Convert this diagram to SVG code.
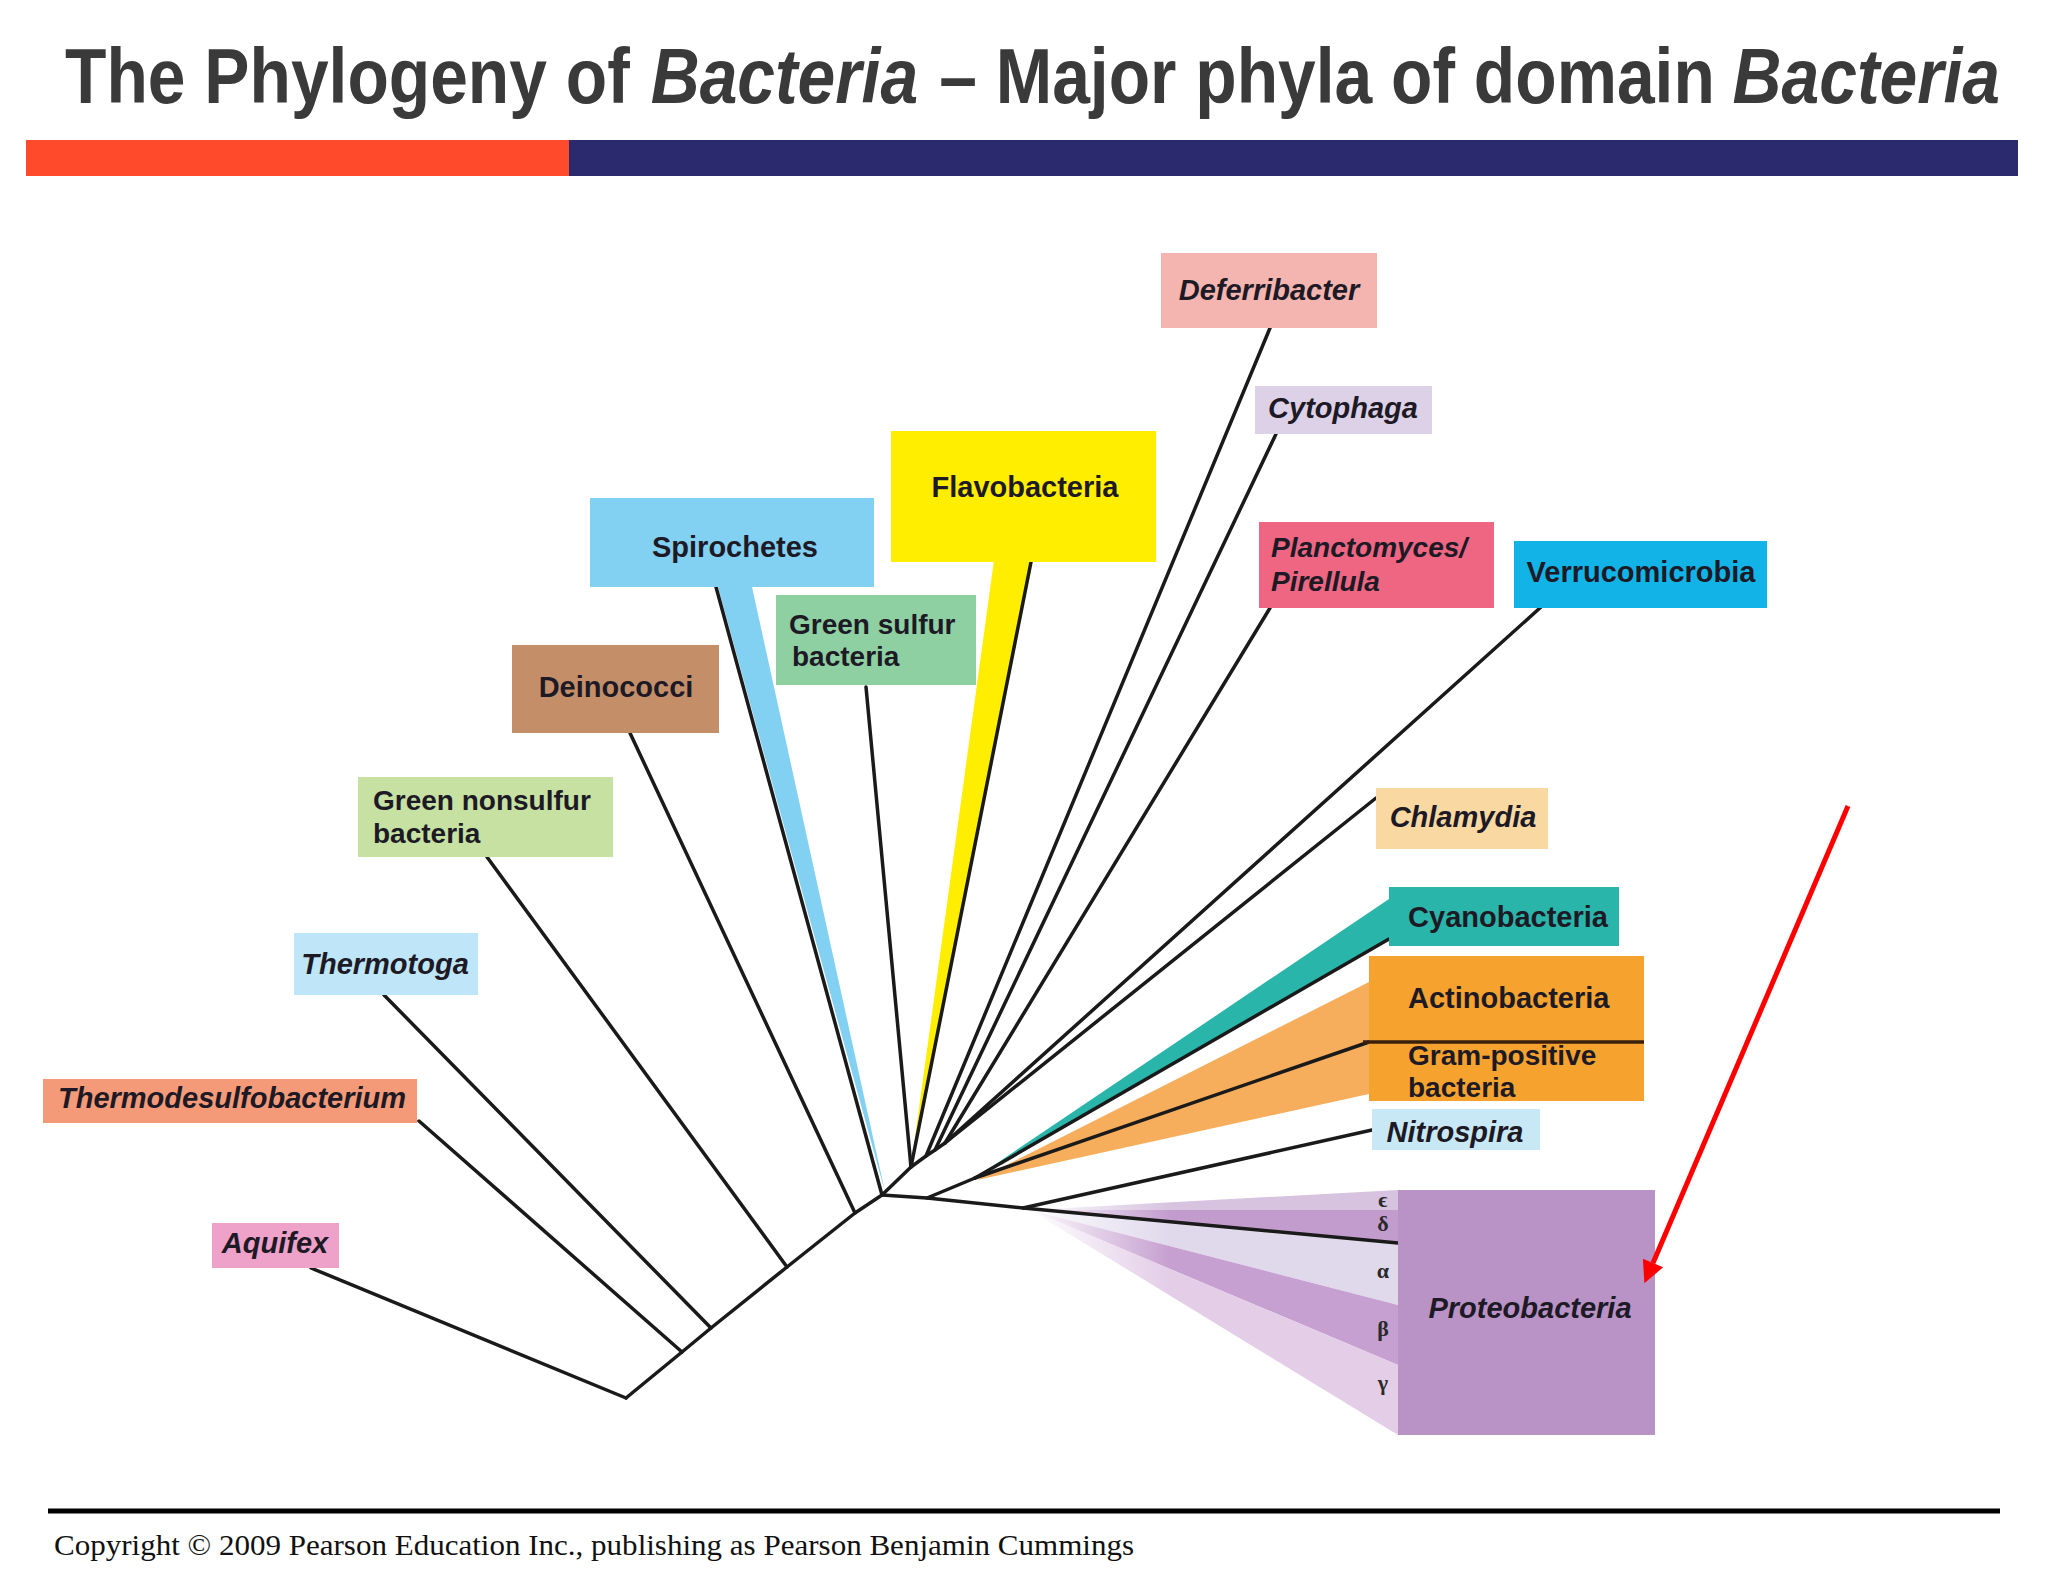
<svg xmlns="http://www.w3.org/2000/svg" width="2048" height="1582" viewBox="0 0 2048 1582">
<defs>
<style>
.lbl{font-family:"Liberation Sans",Arial,sans-serif;font-weight:bold;font-size:29px;fill:#1d1a26}
.two{font-size:28px}
.it{font-style:italic}
.mid{text-anchor:middle}
.edge{stroke:#1a1a1a;stroke-width:3.5;fill:none;stroke-linecap:round;stroke-linejoin:round}
.greek{font-family:"Liberation Serif","Times New Roman",serif;font-size:22px;font-weight:bold;fill:#2a2a2a;text-anchor:middle}
.title{font-family:"Liberation Sans",Arial,sans-serif;font-weight:bold;font-size:78px;fill:#3a3a3a}
</style>
<marker id="redhead" viewBox="0 0 10 10" refX="0" refY="5" markerWidth="5.2" markerHeight="4.4" orient="auto" markerUnits="strokeWidth">
<path d="M0,0 L10,5 L0,10 z" fill="#ff0000"/>
</marker>
<linearGradient id="fanfade" x1="1025" y1="0" x2="1170" y2="0" gradientUnits="userSpaceOnUse">
<stop offset="0" stop-color="#ffffff" stop-opacity="1"/>
<stop offset="1" stop-color="#ffffff" stop-opacity="0"/>
</linearGradient>
</defs>
<rect width="2048" height="1582" fill="#ffffff"/>

<g id="header">
<g transform="translate(65,103) scale(0.869,1)">
<text class="title" x="0" y="0">The Phylogeny of</text>
<text class="title" x="674" y="0" font-style="italic">Bacteria</text>
<text class="title" x="1006" y="0">– Major phyla of domain</text>
<text class="title" x="1919" y="0" font-style="italic">Bacteria</text>
</g>
<rect x="26" y="140" width="543" height="36" fill="#ff4b2b"/>
<rect x="569" y="140" width="1449" height="36" fill="#2b2a6e"/>
</g>

<g id="wedges">
<polygon points="718,587 752,587 885,1192" fill="#82d0f2"/>
<polygon points="994,560 1033,560 911,1167" fill="#ffee00"/>
<polygon points="1389,899 1389,940 975,1178" fill="#2ab5aa"/>
<polygon points="1369,982 1369,1094 977,1180" fill="#f7ae5c"/>
<polygon points="1398,1190 1398,1210 1030,1210" fill="#d7c3df"/>
<polygon points="1398,1210 1398,1243 1030,1210" fill="#c39cce"/>
<polygon points="1398,1243 1398,1305 1030,1210" fill="#e0d9ec"/>
<polygon points="1398,1305 1398,1365 1030,1210" fill="#c6a0d0"/>
<polygon points="1398,1365 1398,1435 1030,1210" fill="#e3cde7"/>
<polygon points="1025,1185 1170,1185 1170,1440 1025,1440" fill="url(#fanfade)"/>
</g>

<g id="connectors">
<polyline class="edge" points="626,1398 682,1352 711,1328 787,1267 855,1213 882,1195"/>
<line class="edge" x1="311" y1="1268" x2="626" y2="1398"/>
<line class="edge" x1="419" y1="1121" x2="682" y2="1352"/>
<line class="edge" x1="384" y1="995" x2="711" y2="1328"/>
<line class="edge" x1="487" y1="857" x2="787" y2="1267"/>
<line class="edge" x1="630" y1="733" x2="855" y2="1213"/>
<line class="edge" x1="716" y1="587" x2="882" y2="1195"/>
<polyline class="edge" points="882,1195 911,1167 926,1156 935,1150 945,1143"/>
<line class="edge" x1="866" y1="687" x2="911" y2="1167"/>
<line class="edge" x1="1031" y1="562" x2="911" y2="1167"/>
<line class="edge" x1="1270" y1="328" x2="926" y2="1156"/>
<line class="edge" x1="1276" y1="434" x2="935" y2="1150"/>
<line class="edge" x1="1270" y1="608" x2="945" y2="1143"/>
<line class="edge" x1="1541" y1="607" x2="945" y2="1143"/>
<line class="edge" x1="1376" y1="798" x2="945" y2="1143"/>
<polyline class="edge" points="882,1195 927,1198 1023,1208 1398,1243"/>
<line class="edge" x1="927" y1="1198" x2="975" y2="1178"/>
<line class="edge" x1="975" y1="1178" x2="1389" y2="939"/>
<line class="edge" x1="975" y1="1178" x2="1369" y2="1042"/>
<line class="edge" x1="1023" y1="1208" x2="1372" y2="1130"/>
</g>

<g id="node-deferribacter">
<rect x="1161" y="253" width="216" height="75" fill="#f4b4b0"/>
<text class="lbl it mid" x="1269" y="300">Deferribacter</text>
</g>
<g id="node-cytophaga">
<rect x="1255" y="386" width="177" height="48" fill="#ddd1e7"/>
<text class="lbl it mid" x="1343" y="418">Cytophaga</text>
</g>
<g id="node-planctomyces">
<rect x="1259" y="522" width="235" height="86" fill="#ee6682"/>
<text class="lbl two it" x="1271" y="557">Planctomyces/</text>
<text class="lbl two it" x="1271" y="591">Pirellula</text>
</g>
<g id="node-verrucomicrobia">
<rect x="1514" y="541" width="253" height="67" fill="#12b4e8"/>
<text class="lbl mid" x="1641" y="582">Verrucomicrobia</text>
</g>
<g id="node-flavobacteria">
<rect x="891" y="431" width="265" height="131" fill="#ffee00"/>
<text class="lbl mid" x="1025" y="497">Flavobacteria</text>
</g>
<g id="node-spirochetes">
<rect x="590" y="498" width="284" height="89" fill="#82d0f2"/>
<text class="lbl mid" x="735" y="557">Spirochetes</text>
</g>
<g id="node-green-sulfur">
<rect x="776" y="595" width="200" height="90" fill="#8fd0a2"/>
<text class="lbl two" x="789" y="634">Green sulfur</text>
<text class="lbl two" x="792" y="666">bacteria</text>
</g>
<g id="node-deinococci">
<rect x="512" y="645" width="207" height="88" fill="#c48f68"/>
<text class="lbl mid" x="616" y="697">Deinococci</text>
</g>
<g id="node-green-nonsulfur">
<rect x="358" y="777" width="255" height="80" fill="#c6e1a2"/>
<text class="lbl two" x="373" y="810">Green nonsulfur</text>
<text class="lbl two" x="373" y="843">bacteria</text>
</g>
<g id="node-thermotoga">
<rect x="294" y="933" width="184" height="62" fill="#bee6f8"/>
<text class="lbl it mid" x="385" y="974">Thermotoga</text>
</g>
<g id="node-thermodesulfobacterium">
<rect x="43" y="1079" width="374" height="44" fill="#f59a78"/>
<text class="lbl it mid" x="232" y="1108">Thermodesulfobacterium</text>
</g>
<g id="node-aquifex">
<rect x="212" y="1223" width="127" height="45" fill="#eea2c9"/>
<text class="lbl it mid" x="275" y="1253">Aquifex</text>
</g>
<g id="node-chlamydia">
<rect x="1376" y="788" width="172" height="61" fill="#f9d9a1"/>
<text class="lbl it mid" x="1463" y="827">Chlamydia</text>
</g>
<g id="node-cyanobacteria">
<rect x="1389" y="887" width="230" height="59" fill="#2ab5aa"/>
<text class="lbl mid" x="1508" y="927">Cyanobacteria</text>
</g>
<g id="node-actinobacteria">
<rect x="1369" y="956" width="275" height="145" fill="#f6a22e"/>
<line x1="1363" y1="1042" x2="1644" y2="1042" stroke="#3a200c" stroke-width="3.5"/>
<text class="lbl" x="1408" y="1008">Actinobacteria</text>
<text class="lbl two" x="1408" y="1065">Gram-positive</text>
<text class="lbl two" x="1408" y="1097">bacteria</text>
</g>
<g id="node-nitrospira">
<rect x="1372" y="1109" width="168" height="41" fill="#c9e8f5"/>
<text class="lbl it mid" x="1455" y="1142">Nitrospira</text>
</g>
<g id="node-proteobacteria">
<rect x="1398" y="1190" width="257" height="245" fill="#b992c6"/>
<text class="lbl it mid" x="1530" y="1318">Proteobacteria</text>
<text class="greek" x="1383" y="1207">ϵ</text>
<text class="greek" x="1383" y="1231">δ</text>
<text class="greek" x="1383" y="1278">α</text>
<text class="greek" x="1383" y="1336">β</text>
<text class="greek" x="1383" y="1390">γ</text>
</g>

<g id="annotation-arrow">
<line x1="1848" y1="806" x2="1653" y2="1263" stroke="#ff0000" stroke-width="5" marker-end="url(#redhead)"/>
</g>

<g id="footer">
<line x1="48" y1="1511" x2="2000" y2="1511" stroke="#000000" stroke-width="5"/>
<text x="54" y="1555" textLength="1080" lengthAdjust="spacingAndGlyphs" font-family="Liberation Serif, Times New Roman, serif" font-size="30" fill="#111111">Copyright © 2009 Pearson Education Inc., publishing as Pearson Benjamin Cummings</text>
</g>
</svg>
